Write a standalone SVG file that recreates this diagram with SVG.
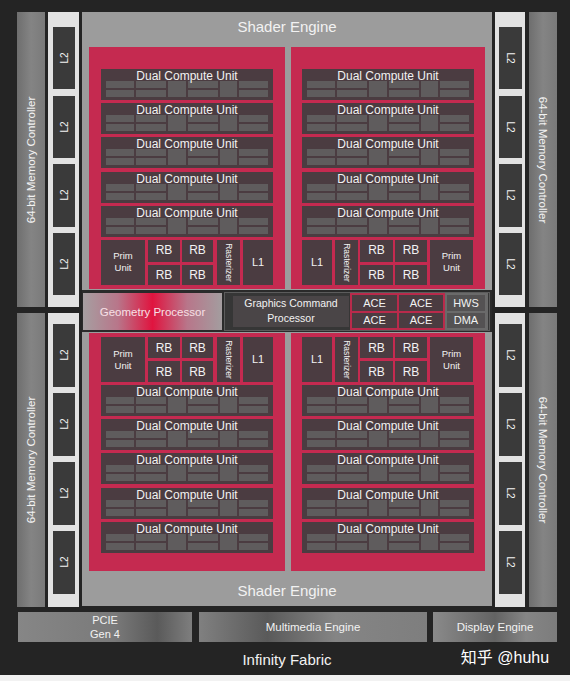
<svg xmlns="http://www.w3.org/2000/svg" xmlns:xlink="http://www.w3.org/1999/xlink" width="570" height="681" viewBox="0 0 570 681">
<style>
.t{font-family:"Liberation Sans",Arial,sans-serif;fill:#f2f2f2;text-anchor:middle}
.mc{fill:url(#mcGrad)}
.l2col{fill:#e2e2e2}
.l2{fill:#3a3a3a}
.se{fill:#9c9c9c}
.red{fill:#c52a50}
.dk{fill:#4b3c41}
.slot{fill:#5f5c5d}
</style>
<defs>
<linearGradient id="mcGrad" x1="0" y1="0" x2="1" y2="0">
<stop offset="0" stop-color="#6e6e6e"/><stop offset="0.5" stop-color="#848484"/><stop offset="1" stop-color="#7a7a7a"/>
</linearGradient>
<linearGradient id="pcieGrad" x1="0" y1="0" x2="1" y2="0">
<stop offset="0" stop-color="#868686"/><stop offset="0.55" stop-color="#7a7a7a"/><stop offset="0.8" stop-color="#5a5a5a"/><stop offset="1" stop-color="#7e7e7e"/>
</linearGradient>
<linearGradient id="mmGrad" x1="0" y1="0" x2="1" y2="0">
<stop offset="0" stop-color="#808080"/><stop offset="0.3" stop-color="#5a5a5a"/><stop offset="0.6" stop-color="#858585"/><stop offset="1" stop-color="#7e7e7e"/>
</linearGradient>
<linearGradient id="dispGrad" x1="0" y1="0" x2="1" y2="0">
<stop offset="0" stop-color="#8a8a8a"/><stop offset="0.5" stop-color="#636363"/><stop offset="0.75" stop-color="#858585"/><stop offset="1" stop-color="#7c7c7c"/>
</linearGradient>
<linearGradient id="geoGrad" x1="0" y1="0" x2="1" y2="0">
<stop offset="0" stop-color="#a69fa1"/><stop offset="0.25" stop-color="#b8768a"/><stop offset="0.5" stop-color="#e0143f"/><stop offset="0.75" stop-color="#b8768a"/><stop offset="1" stop-color="#a39d9f"/>
</linearGradient>
<g id="dcu">
<rect class="dk" x="0" y="0" width="172" height="31"/>
<rect class="slot" x="5" y="12" width="28" height="7"/><rect class="slot" x="5" y="21" width="28" height="7"/>
<rect class="slot" x="35" y="12" width="30" height="7"/><rect class="slot" x="35" y="21" width="30" height="7"/>
<rect class="slot" x="67" y="12" width="18" height="16"/>
<rect class="slot" x="87" y="12" width="30" height="7"/><rect class="slot" x="87" y="21" width="30" height="7"/>
<rect class="slot" x="119" y="12" width="17" height="16"/>
<rect class="slot" x="138" y="12" width="29" height="7"/><rect class="slot" x="138" y="21" width="29" height="7"/>
<text class="t" x="86" y="11" font-size="12">Dual Compute Unit</text>
</g>
</defs>

<rect x="0" y="0" width="570" height="681" fill="#f2f2f2"/>
<rect x="0" y="0" width="570" height="675" fill="#242424"/>

<!-- Memory controllers -->
<g id="mc-tl"><rect class="mc" x="17" y="12" width="28" height="295"/><text class="t" font-size="11.5" transform="translate(31,160) rotate(-90)" y="4">64-bit Memory Controller</text></g>
<g id="mc-bl"><rect class="mc" x="17" y="313" width="28" height="294"/><text class="t" font-size="11.5" transform="translate(31,460) rotate(-90)" y="4">64-bit Memory Controller</text></g>
<g id="mc-tr"><rect class="mc" x="529" y="12" width="28" height="295"/><text class="t" font-size="11.5" transform="translate(543,160) rotate(90)" y="4">64-bit Memory Controller</text></g>
<g id="mc-br"><rect class="mc" x="529" y="313" width="28" height="294"/><text class="t" font-size="11.5" transform="translate(543,460) rotate(90)" y="4">64-bit Memory Controller</text></g>

<!-- L2 columns -->
<g id="l2col-tl"><rect class="l2col" x="48" y="12" width="31" height="295"/>
<rect class="l2" x="53" y="27" width="22" height="62"/><rect class="l2" x="53" y="96" width="22" height="62"/><rect class="l2" x="53" y="164" width="22" height="63"/><rect class="l2" x="53" y="233" width="22" height="62"/>
<text class="t" font-size="10" transform="translate(64,58) rotate(-90)" y="3.5">L2</text><text class="t" font-size="10" transform="translate(64,127) rotate(-90)" y="3.5">L2</text><text class="t" font-size="10" transform="translate(64,195) rotate(-90)" y="3.5">L2</text><text class="t" font-size="10" transform="translate(64,264) rotate(-90)" y="3.5">L2</text></g>
<g id="l2col-bl"><rect class="l2col" x="48" y="313" width="31" height="294"/>
<rect class="l2" x="53" y="324" width="22" height="63"/><rect class="l2" x="53" y="393" width="22" height="63"/><rect class="l2" x="53" y="462" width="22" height="63"/><rect class="l2" x="53" y="531" width="22" height="63"/>
<text class="t" font-size="10" transform="translate(64,355) rotate(-90)" y="3.5">L2</text><text class="t" font-size="10" transform="translate(64,424) rotate(-90)" y="3.5">L2</text><text class="t" font-size="10" transform="translate(64,493) rotate(-90)" y="3.5">L2</text><text class="t" font-size="10" transform="translate(64,562) rotate(-90)" y="3.5">L2</text></g>
<g id="l2col-tr"><rect class="l2col" x="495" y="12" width="30" height="295"/>
<rect class="l2" x="499" y="27" width="23" height="62"/><rect class="l2" x="499" y="96" width="23" height="62"/><rect class="l2" x="499" y="164" width="23" height="63"/><rect class="l2" x="499" y="233" width="23" height="62"/>
<text class="t" font-size="10" transform="translate(510.5,58) rotate(90)" y="3.5">L2</text><text class="t" font-size="10" transform="translate(510.5,127) rotate(90)" y="3.5">L2</text><text class="t" font-size="10" transform="translate(510.5,195) rotate(90)" y="3.5">L2</text><text class="t" font-size="10" transform="translate(510.5,264) rotate(90)" y="3.5">L2</text></g>
<g id="l2col-br"><rect class="l2col" x="495" y="313" width="30" height="294"/>
<rect class="l2" x="499" y="324" width="23" height="63"/><rect class="l2" x="499" y="393" width="23" height="63"/><rect class="l2" x="499" y="462" width="23" height="63"/><rect class="l2" x="499" y="531" width="23" height="63"/>
<text class="t" font-size="10" transform="translate(510.5,355) rotate(90)" y="3.5">L2</text><text class="t" font-size="10" transform="translate(510.5,424) rotate(90)" y="3.5">L2</text><text class="t" font-size="10" transform="translate(510.5,493) rotate(90)" y="3.5">L2</text><text class="t" font-size="10" transform="translate(510.5,562) rotate(90)" y="3.5">L2</text></g>

<!-- Shader engines -->
<g id="se-top">
<rect class="se" x="82" y="12" width="410" height="278"/>
<text class="t" x="287" y="32" font-size="15">Shader Engine</text>
<rect class="red" x="89" y="47" width="196" height="242"/>
<rect class="red" x="291" y="47" width="194" height="242"/>
</g>
<g id="se-bottom">
<rect class="se" x="82" y="332" width="410" height="274"/>
<text class="t" x="287" y="596" font-size="15">Shader Engine</text>
<rect class="red" x="89" y="333" width="196" height="238"/>
<rect class="red" x="291" y="333" width="194" height="238"/>
</g>

<!-- DCUs top-left -->
<g id="dcu-tl-1"><use xlink:href="#dcu" x="101" y="69"/></g>
<g id="dcu-tl-2"><use xlink:href="#dcu" x="101" y="103"/></g>
<g id="dcu-tl-3"><use xlink:href="#dcu" x="101" y="137"/></g>
<g id="dcu-tl-4"><use xlink:href="#dcu" x="101" y="172"/></g>
<g id="dcu-tl-5"><use xlink:href="#dcu" x="101" y="206"/></g>
<!-- DCUs top-right -->
<g id="dcu-tr-1"><use xlink:href="#dcu" x="302" y="69"/></g>
<g id="dcu-tr-2"><use xlink:href="#dcu" x="302" y="103"/></g>
<g id="dcu-tr-3"><use xlink:href="#dcu" x="302" y="137"/></g>
<g id="dcu-tr-4"><use xlink:href="#dcu" x="302" y="172"/></g>
<g id="dcu-tr-5"><use xlink:href="#dcu" x="302" y="206"/></g>
<!-- DCUs bottom-left -->
<g id="dcu-bl-1"><use xlink:href="#dcu" x="101" y="385"/></g>
<g id="dcu-bl-2"><use xlink:href="#dcu" x="101" y="419"/></g>
<g id="dcu-bl-3"><use xlink:href="#dcu" x="101" y="453"/></g>
<g id="dcu-bl-4"><use xlink:href="#dcu" x="101" y="488"/></g>
<g id="dcu-bl-5"><use xlink:href="#dcu" x="101" y="522"/></g>
<!-- DCUs bottom-right -->
<g id="dcu-br-1"><use xlink:href="#dcu" x="302" y="385"/></g>
<g id="dcu-br-2"><use xlink:href="#dcu" x="302" y="419"/></g>
<g id="dcu-br-3"><use xlink:href="#dcu" x="302" y="453"/></g>
<g id="dcu-br-4"><use xlink:href="#dcu" x="302" y="488"/></g>
<g id="dcu-br-5"><use xlink:href="#dcu" x="302" y="522"/></g>

<!-- Top-left front end row -->
<g id="prim-tl"><rect class="dk" x="101" y="240" width="44" height="45"/><text class="t" x="123" y="259" font-size="9.5">Prim</text><text class="t" x="123" y="271" font-size="9.5">Unit</text></g>
<g id="rb-tl"><rect class="dk" x="148" y="240" width="32" height="22"/><rect class="dk" x="182" y="240" width="31" height="22"/><rect class="dk" x="148" y="265" width="32" height="20"/><rect class="dk" x="182" y="265" width="31" height="20"/>
<text class="t" x="164" y="254" font-size="12">RB</text><text class="t" x="197.5" y="254" font-size="12">RB</text><text class="t" x="164" y="279" font-size="12">RB</text><text class="t" x="197.5" y="279" font-size="12">RB</text></g>
<g id="rast-tl"><rect class="dk" x="217" y="240" width="23" height="45"/><text class="t" font-size="8.5" transform="translate(228.5,262.5) rotate(90)" y="3">Rasterizer</text></g>
<g id="l1-tl"><rect class="dk" x="243" y="240" width="30" height="45"/><text class="t" x="258" y="266" font-size="11">L1</text></g>

<!-- Top-right front end row -->
<g id="l1-tr"><rect class="dk" x="302" y="240" width="30" height="45"/><text class="t" x="317" y="266" font-size="11">L1</text></g>
<g id="rast-tr"><rect class="dk" x="335" y="240" width="23" height="45"/><text class="t" font-size="8.5" transform="translate(346.5,262.5) rotate(90)" y="3">Rasterizer</text></g>
<g id="rb-tr"><rect class="dk" x="360" y="240" width="33" height="22"/><rect class="dk" x="395" y="240" width="32" height="22"/><rect class="dk" x="360" y="265" width="33" height="20"/><rect class="dk" x="395" y="265" width="32" height="20"/>
<text class="t" x="376.5" y="254" font-size="12">RB</text><text class="t" x="411" y="254" font-size="12">RB</text><text class="t" x="376.5" y="279" font-size="12">RB</text><text class="t" x="411" y="279" font-size="12">RB</text></g>
<g id="prim-tr"><rect class="dk" x="430" y="240" width="43" height="45"/><text class="t" x="451.5" y="259" font-size="9.5">Prim</text><text class="t" x="451.5" y="271" font-size="9.5">Unit</text></g>

<!-- Bottom-left front end row -->
<g id="prim-bl"><rect class="dk" x="101" y="337" width="44" height="45"/><text class="t" x="123" y="357" font-size="9.5">Prim</text><text class="t" x="123" y="369" font-size="9.5">Unit</text></g>
<g id="rb-bl"><rect class="dk" x="148" y="337" width="32" height="21"/><rect class="dk" x="182" y="337" width="31" height="21"/><rect class="dk" x="148" y="361" width="32" height="21"/><rect class="dk" x="182" y="361" width="31" height="21"/>
<text class="t" x="164" y="351.5" font-size="12">RB</text><text class="t" x="197.5" y="351.5" font-size="12">RB</text><text class="t" x="164" y="375.5" font-size="12">RB</text><text class="t" x="197.5" y="375.5" font-size="12">RB</text></g>
<g id="rast-bl"><rect class="dk" x="217" y="337" width="23" height="45"/><text class="t" font-size="8.5" transform="translate(228.5,359.5) rotate(90)" y="3">Rasterizer</text></g>
<g id="l1-bl"><rect class="dk" x="243" y="337" width="30" height="45"/><text class="t" x="258" y="363" font-size="11">L1</text></g>

<!-- Bottom-right front end row -->
<g id="l1-br"><rect class="dk" x="302" y="337" width="30" height="45"/><text class="t" x="317" y="363" font-size="11">L1</text></g>
<g id="rast-br"><rect class="dk" x="335" y="337" width="23" height="45"/><text class="t" font-size="8.5" transform="translate(346.5,359.5) rotate(90)" y="3">Rasterizer</text></g>
<g id="rb-br"><rect class="dk" x="360" y="337" width="33" height="21"/><rect class="dk" x="395" y="337" width="32" height="21"/><rect class="dk" x="360" y="361" width="33" height="21"/><rect class="dk" x="395" y="361" width="32" height="21"/>
<text class="t" x="376.5" y="351.5" font-size="12">RB</text><text class="t" x="411" y="351.5" font-size="12">RB</text><text class="t" x="376.5" y="375.5" font-size="12">RB</text><text class="t" x="411" y="375.5" font-size="12">RB</text></g>
<g id="prim-br"><rect class="dk" x="430" y="337" width="43" height="45"/><text class="t" x="451.5" y="357" font-size="9.5">Prim</text><text class="t" x="451.5" y="369" font-size="9.5">Unit</text></g>

<!-- Middle band -->
<rect x="82" y="290" width="410" height="42" fill="#2a2a2a"/>
<g id="geometry-processor"><rect x="83" y="293" width="139" height="37" fill="url(#geoGrad)"/><text class="t" x="152.5" y="316" font-size="11.5" style="fill:#f8e0e6">Geometry Processor</text></g>
<g id="command-frame"><rect x="224.5" y="292.5" width="265" height="38" fill="#363636" stroke="#5c5c5c"/></g>
<g id="graphics-command-processor"><rect x="233" y="296" width="116" height="31" fill="#4a4547"/><text class="t" x="291" y="307" font-size="10.5">Graphics Command</text><text class="t" x="291" y="322" font-size="10.5">Processor</text></g>
<g id="ace"><rect x="350" y="293" width="95" height="37" fill="#b92a4b"/>
<rect class="dk" x="352" y="295" width="45" height="16"/><rect class="dk" x="399" y="295" width="44" height="16"/><rect class="dk" x="352" y="313" width="45" height="15"/><rect class="dk" x="399" y="313" width="44" height="15"/>
<text class="t" x="374.5" y="307" font-size="11">ACE</text><text class="t" x="421" y="307" font-size="11">ACE</text><text class="t" x="374.5" y="324" font-size="11">ACE</text><text class="t" x="421" y="324" font-size="11">ACE</text></g>
<g id="hws-dma"><rect x="445" y="293" width="43" height="37" fill="#6a6a6a"/>
<rect x="447" y="295" width="38" height="16" fill="#545253"/><rect x="447" y="313" width="38" height="15" fill="#545253"/>
<text class="t" x="466" y="307" font-size="11">HWS</text><text class="t" x="466" y="324" font-size="11">DMA</text></g>

<!-- Bottom I/O -->
<g id="pcie"><rect x="18" y="612" width="174" height="30" fill="url(#pcieGrad)"/><text class="t" x="105" y="624" font-size="11">PCIE</text><text class="t" x="105" y="638" font-size="11">Gen 4</text></g>
<g id="multimedia-engine"><rect x="199" y="612" width="228" height="30" fill="url(#mmGrad)"/><text class="t" x="313" y="631" font-size="11.5">Multimedia Engine</text></g>
<g id="display-engine"><rect x="433" y="612" width="124" height="30" fill="url(#dispGrad)"/><text class="t" x="495" y="631" font-size="11.5">Display Engine</text></g>
<g id="infinity-fabric"><text class="t" x="287" y="665" font-size="15">Infinity Fabric</text></g>
<text x="505" y="663" font-size="16" fill="#ffffff" text-anchor="middle" font-family="'Liberation Sans','Noto Sans CJK SC',sans-serif">知乎 @huhu</text>
<g id="connectors"/>
</svg>
